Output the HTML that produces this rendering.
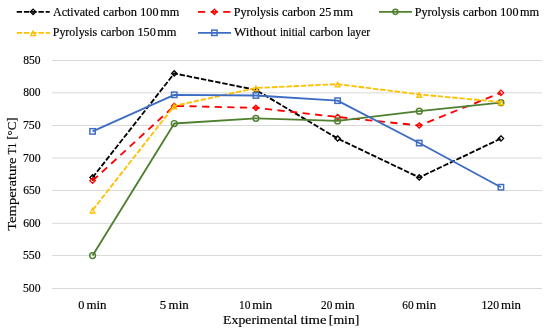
<!DOCTYPE html>
<html><head><meta charset="utf-8"><title>Chart</title>
<style>html,body{margin:0;padding:0;background:#fff;overflow:hidden}svg{display:block}text{font-family:"Liberation Serif",serif;fill:#000;stroke:#000;stroke-width:0.16px}</style></head><body>
<svg width="550" height="333" viewBox="0 0 550 333">
<rect width="550" height="333" fill="#fff"/>
<line x1="52.0" y1="288.50" x2="542.0" y2="288.50" stroke="#D9D9D9" stroke-width="1"/>
<text y="292.10" font-size="11.8"><tspan x="23.02" textLength="17.54" lengthAdjust="spacingAndGlyphs">500</tspan></text>
<line x1="52.0" y1="255.55" x2="542.0" y2="255.55" stroke="#D9D9D9" stroke-width="1"/>
<text y="259.15" font-size="11.8"><tspan x="23.02" textLength="17.54" lengthAdjust="spacingAndGlyphs">550</tspan></text>
<line x1="52.0" y1="223.30" x2="542.0" y2="223.30" stroke="#D9D9D9" stroke-width="1"/>
<text y="226.90" font-size="11.8"><tspan x="23.14" textLength="17.41" lengthAdjust="spacingAndGlyphs">600</tspan></text>
<line x1="52.0" y1="190.45" x2="542.0" y2="190.45" stroke="#D9D9D9" stroke-width="1"/>
<text y="194.05" font-size="11.8"><tspan x="23.14" textLength="17.41" lengthAdjust="spacingAndGlyphs">650</tspan></text>
<line x1="52.0" y1="158.00" x2="542.0" y2="158.00" stroke="#D9D9D9" stroke-width="1"/>
<text y="161.60" font-size="11.8"><tspan x="22.89" textLength="17.66" lengthAdjust="spacingAndGlyphs">700</tspan></text>
<line x1="52.0" y1="125.50" x2="542.0" y2="125.50" stroke="#D9D9D9" stroke-width="1"/>
<text y="129.10" font-size="11.8"><tspan x="22.89" textLength="17.66" lengthAdjust="spacingAndGlyphs">750</tspan></text>
<line x1="52.0" y1="92.85" x2="542.0" y2="92.85" stroke="#D9D9D9" stroke-width="1"/>
<text y="96.45" font-size="11.8"><tspan x="23.25" textLength="17.29" lengthAdjust="spacingAndGlyphs">800</tspan></text>
<line x1="52.0" y1="60.50" x2="542.0" y2="60.50" stroke="#D9D9D9" stroke-width="1"/>
<text y="64.10" font-size="11.8"><tspan x="23.25" textLength="17.29" lengthAdjust="spacingAndGlyphs">850</tspan></text>
<text y="308.70" font-size="11.8"><tspan x="78.33" textLength="6.14" lengthAdjust="spacingAndGlyphs">0</tspan> <tspan x="86.44" textLength="20.09" lengthAdjust="spacingAndGlyphs">min</tspan></text>
<text y="308.70" font-size="11.8"><tspan x="159.86" textLength="6.43" lengthAdjust="spacingAndGlyphs">5</tspan> <tspan x="168.64" textLength="20.09" lengthAdjust="spacingAndGlyphs">min</tspan></text>
<text y="308.70" font-size="11.8"><tspan x="238.98" textLength="11.46" lengthAdjust="spacingAndGlyphs">10</tspan> <tspan x="252.24" textLength="20.09" lengthAdjust="spacingAndGlyphs">min</tspan></text>
<text y="308.70" font-size="11.8"><tspan x="321.05" textLength="11.29" lengthAdjust="spacingAndGlyphs">20</tspan> <tspan x="334.74" textLength="20.09" lengthAdjust="spacingAndGlyphs">min</tspan></text>
<text y="308.70" font-size="11.8"><tspan x="402.35" textLength="11.29" lengthAdjust="spacingAndGlyphs">60</tspan> <tspan x="416.04" textLength="20.09" lengthAdjust="spacingAndGlyphs">min</tspan></text>
<text y="308.70" font-size="11.8"><tspan x="481.46" textLength="17.59" lengthAdjust="spacingAndGlyphs">120</tspan> <tspan x="500.94" textLength="19.99" lengthAdjust="spacingAndGlyphs">min</tspan></text>
<text y="324.40" font-size="11.8"><tspan x="223.12" textLength="74.12" lengthAdjust="spacingAndGlyphs">Experimental</tspan> <tspan x="300.40" textLength="26.10" lengthAdjust="spacingAndGlyphs">time</tspan> <tspan x="328.84" textLength="30.57" lengthAdjust="spacingAndGlyphs">[min]</tspan></text>
<g transform="translate(16.1 230.6) rotate(-90)"><text y="0.00" font-size="12.8"><tspan x="-0.15" textLength="73.24" lengthAdjust="spacingAndGlyphs">Temperature</tspan> <tspan x="76.00" textLength="11.63" lengthAdjust="spacingAndGlyphs">T1</tspan> <tspan x="90.80" textLength="22.34" lengthAdjust="spacingAndGlyphs">[°C]</tspan></text></g>
<polyline points="92.58,177.47 174.25,73.44 255.92,89.94 337.58,138.50 419.25,177.47 500.92,138.50" fill="none" stroke="#000000" stroke-width="1.85" stroke-linejoin="round" stroke-dasharray="5.4 1.85"/>
<polygon points="92.58,174.77 95.28,177.47 92.58,180.17 89.88,177.47" fill="none" stroke="#000000" stroke-width="1.3"/>
<polygon points="174.25,70.74 176.95,73.44 174.25,76.14 171.55,73.44" fill="none" stroke="#000000" stroke-width="1.3"/>
<polygon points="255.92,87.24 258.62,89.94 255.92,92.64 253.22,89.94" fill="none" stroke="#000000" stroke-width="1.3"/>
<polygon points="337.58,135.80 340.28,138.50 337.58,141.20 334.88,138.50" fill="none" stroke="#000000" stroke-width="1.3"/>
<polygon points="419.25,174.77 421.95,177.47 419.25,180.17 416.55,177.47" fill="none" stroke="#000000" stroke-width="1.3"/>
<polygon points="500.92,135.80 503.62,138.50 500.92,141.20 498.22,138.50" fill="none" stroke="#000000" stroke-width="1.3"/>
<polyline points="92.58,180.72 174.25,105.91 255.92,107.87 337.58,117.01 419.25,125.50 500.92,92.85" fill="none" stroke="#FF0000" stroke-width="1.85" stroke-linejoin="round" stroke-dasharray="7.2 5.4"/>
<polygon points="92.58,178.02 95.28,180.72 92.58,183.41 89.88,180.72" fill="none" stroke="#FF0000" stroke-width="1.3"/>
<polygon points="174.25,103.21 176.95,105.91 174.25,108.61 171.55,105.91" fill="none" stroke="#FF0000" stroke-width="1.3"/>
<polygon points="255.92,105.17 258.62,107.87 255.92,110.57 253.22,107.87" fill="none" stroke="#FF0000" stroke-width="1.3"/>
<polygon points="337.58,114.31 340.28,117.01 337.58,119.71 334.88,117.01" fill="none" stroke="#FF0000" stroke-width="1.3"/>
<polygon points="419.25,122.80 421.95,125.50 419.25,128.20 416.55,125.50" fill="none" stroke="#FF0000" stroke-width="1.3"/>
<polygon points="500.92,90.15 503.62,92.85 500.92,95.55 498.22,92.85" fill="none" stroke="#FF0000" stroke-width="1.3"/>
<polyline points="92.58,255.55 174.25,123.54 255.92,118.32 337.58,120.93 419.25,111.13 500.92,102.64" fill="none" stroke="#4E8030" stroke-width="1.85" stroke-linejoin="round"/>
<circle cx="92.58" cy="255.55" r="2.90" fill="none" stroke="#4E8030" stroke-width="1.45"/>
<circle cx="174.25" cy="123.54" r="2.90" fill="none" stroke="#4E8030" stroke-width="1.45"/>
<circle cx="255.92" cy="118.32" r="2.90" fill="none" stroke="#4E8030" stroke-width="1.45"/>
<circle cx="337.58" cy="120.93" r="2.90" fill="none" stroke="#4E8030" stroke-width="1.45"/>
<circle cx="419.25" cy="111.13" r="2.90" fill="none" stroke="#4E8030" stroke-width="1.45"/>
<circle cx="500.92" cy="102.64" r="2.90" fill="none" stroke="#4E8030" stroke-width="1.45"/>
<polyline points="92.58,210.16 174.25,105.91 255.92,88.00 337.58,84.12 419.25,94.48 500.92,101.99" fill="none" stroke="#FFC000" stroke-width="1.85" stroke-linejoin="round" stroke-dasharray="5.4 1.85"/>
<polygon points="92.58,208.46 94.88,212.96 90.28,212.96" fill="none" stroke="#FFC000" stroke-width="1.3499999999999999"/>
<polygon points="174.25,104.21 176.55,108.71 171.95,108.71" fill="none" stroke="#FFC000" stroke-width="1.3499999999999999"/>
<polygon points="255.92,86.30 258.22,90.80 253.62,90.80" fill="none" stroke="#FFC000" stroke-width="1.3499999999999999"/>
<polygon points="337.58,82.42 339.88,86.92 335.28,86.92" fill="none" stroke="#FFC000" stroke-width="1.3499999999999999"/>
<polygon points="419.25,92.78 421.55,97.28 416.95,97.28" fill="none" stroke="#FFC000" stroke-width="1.3499999999999999"/>
<polygon points="500.92,100.29 503.22,104.79 498.62,104.79" fill="none" stroke="#FFC000" stroke-width="1.3499999999999999"/>
<polyline points="92.58,131.35 174.25,94.81 255.92,95.46 337.58,100.69 419.25,143.05 500.92,187.20" fill="none" stroke="#3C6CC4" stroke-width="1.85" stroke-linejoin="round"/>
<rect x="89.88" y="128.65" width="5.40" height="5.40" fill="none" stroke="#3C6CC4" stroke-width="1.45"/>
<rect x="171.55" y="92.11" width="5.40" height="5.40" fill="none" stroke="#3C6CC4" stroke-width="1.45"/>
<rect x="253.22" y="92.76" width="5.40" height="5.40" fill="none" stroke="#3C6CC4" stroke-width="1.45"/>
<rect x="334.88" y="97.99" width="5.40" height="5.40" fill="none" stroke="#3C6CC4" stroke-width="1.45"/>
<rect x="416.55" y="140.35" width="5.40" height="5.40" fill="none" stroke="#3C6CC4" stroke-width="1.45"/>
<rect x="498.22" y="184.50" width="5.40" height="5.40" fill="none" stroke="#3C6CC4" stroke-width="1.45"/>
<line x1="16.7" y1="11.85" x2="49.7" y2="11.85" stroke="#000000" stroke-width="1.85" stroke-dasharray="5.4 1.85"/>
<polygon points="33.10,9.15 35.80,11.85 33.10,14.55 30.40,11.85" fill="none" stroke="#000000" stroke-width="1.3"/>
<text y="15.70" font-size="11.8"><tspan x="53.00" textLength="46.72" lengthAdjust="spacingAndGlyphs">Activated</tspan> <tspan x="103.13" textLength="34.00" lengthAdjust="spacingAndGlyphs">carbon</tspan> <tspan x="140.33" textLength="18.13" lengthAdjust="spacingAndGlyphs">100</tspan> <tspan x="160.16" textLength="19.04" lengthAdjust="spacingAndGlyphs">mm</tspan></text>
<line x1="198.0" y1="11.85" x2="231.0" y2="11.85" stroke="#FF0000" stroke-width="1.85" stroke-dasharray="7.2 5.4"/>
<polygon points="214.40,9.15 217.10,11.85 214.40,14.55 211.70,11.85" fill="none" stroke="#FF0000" stroke-width="1.3"/>
<text y="15.70" font-size="11.8"><tspan x="233.86" textLength="44.89" lengthAdjust="spacingAndGlyphs">Pyrolysis</tspan> <tspan x="281.93" textLength="33.90" lengthAdjust="spacingAndGlyphs">carbon</tspan> <tspan x="319.22" textLength="12.04" lengthAdjust="spacingAndGlyphs">25</tspan> <tspan x="333.35" textLength="19.65" lengthAdjust="spacingAndGlyphs">mm</tspan></text>
<line x1="379.0" y1="11.85" x2="412.0" y2="11.85" stroke="#4E8030" stroke-width="1.85"/>
<circle cx="395.40" cy="11.85" r="2.55" fill="none" stroke="#4E8030" stroke-width="1.45"/>
<text y="15.70" font-size="11.8"><tspan x="414.76" textLength="44.99" lengthAdjust="spacingAndGlyphs">Pyrolysis</tspan> <tspan x="462.82" textLength="34.30" lengthAdjust="spacingAndGlyphs">carbon</tspan> <tspan x="500.33" textLength="18.13" lengthAdjust="spacingAndGlyphs">100</tspan> <tspan x="519.95" textLength="19.24" lengthAdjust="spacingAndGlyphs">mm</tspan></text>
<line x1="16.7" y1="32.8" x2="49.7" y2="32.8" stroke="#FFC000" stroke-width="1.85" stroke-dasharray="5.4 1.85"/>
<polygon points="33.10,31.10 35.40,35.60 30.80,35.60" fill="none" stroke="#FFC000" stroke-width="1.3499999999999999"/>
<text y="36.40" font-size="11.8"><tspan x="52.76" textLength="44.49" lengthAdjust="spacingAndGlyphs">Pyrolysis</tspan> <tspan x="100.43" textLength="34.00" lengthAdjust="spacingAndGlyphs">carbon</tspan> <tspan x="137.53" textLength="18.24" lengthAdjust="spacingAndGlyphs">150</tspan> <tspan x="157.15" textLength="19.35" lengthAdjust="spacingAndGlyphs">mm</tspan></text>
<line x1="198.0" y1="32.8" x2="231.0" y2="32.8" stroke="#3C6CC4" stroke-width="1.85"/>
<rect x="211.70" y="30.10" width="5.40" height="5.40" fill="none" stroke="#3C6CC4" stroke-width="1.45"/>
<text y="36.40" font-size="11.8"><tspan x="234.10" textLength="42.17" lengthAdjust="spacingAndGlyphs">Without</tspan> <tspan x="279.98" textLength="25.82" lengthAdjust="spacingAndGlyphs">initial</tspan> <tspan x="309.43" textLength="33.90" lengthAdjust="spacingAndGlyphs">carbon</tspan> <tspan x="346.97" textLength="23.17" lengthAdjust="spacingAndGlyphs">layer</tspan></text>
</svg></body></html>
